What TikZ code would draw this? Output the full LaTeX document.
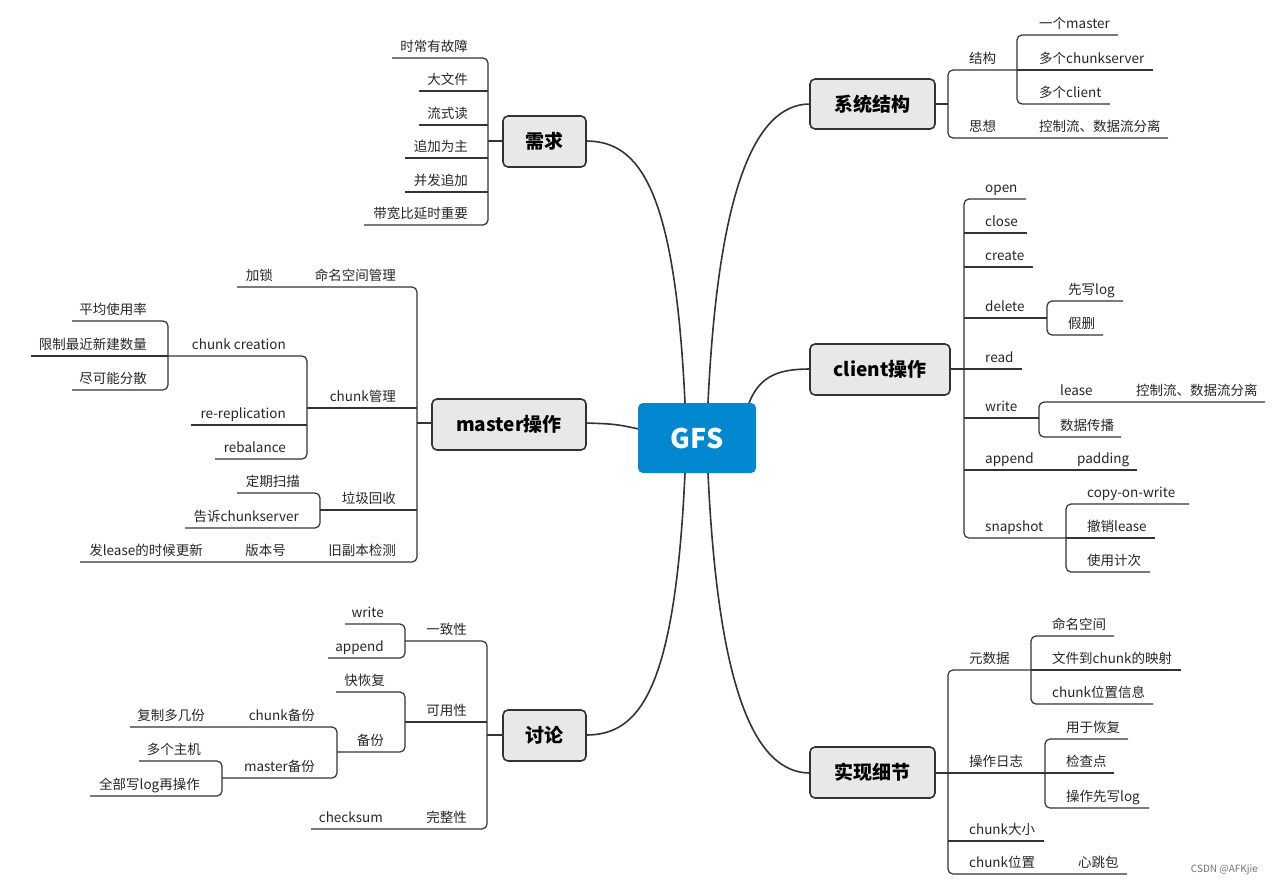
\documentclass[tikz,border=0pt]{standalone}
\usepackage{fontspec}
\setmainfont{Noto Sans CJK SC}
\begin{document}
\begin{tikzpicture}[x=1pt,y=-1pt,
  ln/.style={draw=black!80,line width=1.2pt,rounded corners=5pt},
  cv/.style={draw=black!80,line width=1.6pt},
  topic/.style={draw=black!80,line width=1.6pt,fill=black!9,rounded corners=5pt,font=\fontsize{19}{22}\selectfont\bfseries,inner sep=0pt},
  R/.style={anchor=base west,inner sep=0pt,font=\fontsize{13.5}{16}\selectfont,text=black!85},
  L/.style={anchor=base east,inner sep=0pt,font=\fontsize{13.5}{16}\selectfont,text=black!85}]
\useasboundingbox (0,0) rectangle (1273,884);
% curves
\draw[cv] (685,403) .. controls (675,190) and (640,141) .. (586,141);
\draw[cv] (708,403) .. controls (718,190) and (755,104) .. (810,104);
\draw[cv] (749,403) .. controls (760,375) and (780,369) .. (810,369);
\draw[cv] (639,429) .. controls (615,424) .. (586,423);
\draw[cv] (685,473) .. controls (675,690) and (640,735) .. (586,735);
\draw[cv] (708,473) .. controls (718,690) and (755,773) .. (810,773);
% center
\node[fill={rgb,255:red,2;green,136;blue,209},rounded corners=5pt,minimum width=118pt,minimum height=70pt,text=white,font=\fontsize{27}{30}\selectfont\bfseries] (gfs) at (697,438) {GFS};
\node[topic,minimum width=125pt,minimum height=50pt] (t1) at (872.5,104) {系统结构};
\node[topic,minimum width=140pt,minimum height=51pt] (t2) at (880,369.5) {client操作};
\node[topic,minimum width=125pt,minimum height=51pt] (t3) at (872.5,772.5) {实现细节};
\node[topic,minimum width=83pt,minimum height=51pt] (t4) at (544.5,141.5) {需求};
\node[topic,minimum width=154pt,minimum height=51pt] (t5) at (509,424.5) {master操作};
\node[topic,minimum width=83pt,minimum height=51pt] (t6) at (544.5,735.5) {讨论};
% ---- 系统结构
\draw[ln] (935,104)--(948,104);
\draw[ln] (1017,70)--(948,70)--(948,138)--(1168,138);
\draw[ln] (1118,35)--(1017,35)--(1017,104)--(1110,104);
\draw[ln] (1017,70)--(1153,70);
\node[R] at (969,63) {结构};
\node[R] at (969,131) {思想};
\node[R] at (1039,28) {一个master};
\node[R] at (1039,63) {多个chunkserver};
\node[R] at (1039,97) {多个client};
\node[R] at (1039,131) {控制流、数据流分离};
% ---- client
\draw[ln] (950,369)--(964,369);
\draw[ln] (1026,199)--(964,199)--(964,538)--(1066,538);
\draw[ln] (964,233)--(1027,233);
\draw[ln] (964,267)--(1033,267);
\draw[ln] (964,318)--(1047,318);
\draw[ln] (964,369)--(1022,369);
\draw[ln] (964,418)--(1039,418);
\draw[ln] (964,470)--(1137,470);
\draw[ln] (1123,301)--(1047,301)--(1047,335)--(1103,335);
\draw[ln] (1265,402)--(1039,402)--(1039,437)--(1121,437);
\draw[ln] (1189,504)--(1066,504)--(1066,572)--(1150,572);
\draw[ln] (1066,538)--(1155,538);
\node[R] at (985,192) {open};
\node[R] at (985,226) {close};
\node[R] at (985,260) {create};
\node[R] at (985,311) {delete};
\node[R] at (985,362) {read};
\node[R] at (985,411) {write};
\node[R] at (985,463) {append};
\node[R] at (985,531) {snapshot};
\node[R] at (1068,294) {先写log};
\node[R] at (1068,328) {假删};
\node[R] at (1060,395) {lease};
\node[R] at (1136,395) {控制流、数据流分离};
\node[R] at (1060,430) {数据传播};
\node[R] at (1077,463) {padding};
\node[R] at (1087,497) {copy-on-write};
\node[R] at (1087,531) {撤销lease};
\node[R] at (1087,565) {使用计次};
% ---- 实现细节
\draw[ln] (935,773)--(948,773);
\draw[ln] (1031,670)--(948,670)--(948,874)--(1127,874);
\draw[ln] (948,773)--(1045,773);
\draw[ln] (948,841)--(1044,841);
\draw[ln] (1114,636)--(1031,636)--(1031,704)--(1153,704);
\draw[ln] (1031,670)--(1181,670);
\draw[ln] (1128,739)--(1045,739)--(1045,808)--(1149,808);
\draw[ln] (1045,773)--(1114,773);
\node[R] at (969,663) {元数据};
\node[R] at (969,766) {操作日志};
\node[R] at (969,834) {chunk大小};
\node[R] at (969,867) {chunk位置};
\node[R] at (1078,867) {心跳包};
\node[R] at (1052,629) {命名空间};
\node[R] at (1052,663) {文件到chunk的映射};
\node[R] at (1052,697) {chunk位置信息};
\node[R] at (1066,732) {用于恢复};
\node[R] at (1066,766) {检查点};
\node[R] at (1066,801) {操作先写log};
% ---- 需求
\draw[ln] (503,141)--(488,141);
\draw[ln] (392,58)--(488,58)--(488,225)--(364,225);
\draw[ln] (488,91)--(419,91);
\draw[ln] (488,125)--(419,125);
\draw[ln] (488,158)--(405,158);
\draw[ln] (488,192)--(405,192);
\node[L] at (468,51) {时常有故障};
\node[L] at (468,84) {大文件};
\node[L] at (468,118) {流式读};
\node[L] at (468,151) {追加为主};
\node[L] at (468,185) {并发追加};
\node[L] at (468,218) {带宽比延时重要};
% ---- master
\draw[ln] (432,423)--(417,423);
\draw[ln] (237,287)--(417,287)--(417,562)--(80,562);
\draw[ln] (417,408)--(307,408);
\draw[ln] (417,510)--(320,510);
\draw[ln] (168,356)--(307,356)--(307,459)--(215,459);
\draw[ln] (307,425)--(191,425);
\draw[ln] (72,321)--(168,321)--(168,390)--(72,390);
\draw[ln] (168,356)--(31,356);
\draw[ln] (237,493)--(320,493)--(320,528)--(185,528);
\node[L] at (396,280) {命名空间管理};
\node[L] at (273,280) {加锁};
\node[L] at (396,401) {chunk管理};
\node[L] at (286,349) {chunk creation};
\node[L] at (147,314) {平均使用率};
\node[L] at (147,349) {限制最近新建数量};
\node[L] at (147,383) {尽可能分散};
\node[L] at (286,418) {re-replication};
\node[L] at (286,452) {rebalance};
\node[L] at (396,503) {垃圾回收};
\node[L] at (300,486) {定期扫描};
\node[L] at (299,521) {告诉chunkserver};
\node[L] at (396,555) {旧副本检测};
\node[L] at (286,555) {版本号};
\node[L] at (203,555) {发lease的时候更新};
% ---- 讨论
\draw[ln] (503,735)--(487,735);
\draw[ln] (405,641)--(487,641)--(487,829)--(311,829);
\draw[ln] (487,722)--(405,722);
\draw[ln] (345,624)--(405,624)--(405,658)--(328,658);
\draw[ln] (336,692)--(405,692)--(405,752)--(337,752);
\draw[ln] (130,727)--(337,727)--(337,778)--(222,778);
\draw[ln] (139,761)--(222,761)--(222,796)--(90,796);
\node[L] at (384,617) {write};
\node[L] at (384,651) {append};
\node[L] at (467,634) {一致性};
\node[L] at (385,685) {快恢复};
\node[L] at (467,715) {可用性};
\node[L] at (384,745) {备份};
\node[L] at (315,720) {chunk备份};
\node[L] at (205,720) {复制多几份};
\node[L] at (315,771) {master备份};
\node[L] at (201,754) {多个主机};
\node[L] at (200,789) {全部写log再操作};
\node[L] at (383,822) {checksum};
\node[L] at (467,822) {完整性};
\node[anchor=base east,inner sep=0pt,font=\fontsize{10}{12}\selectfont,text=black!55] (wm) at (1258,872) {CSDN @AFKjie};
\end{tikzpicture}
\end{document}
